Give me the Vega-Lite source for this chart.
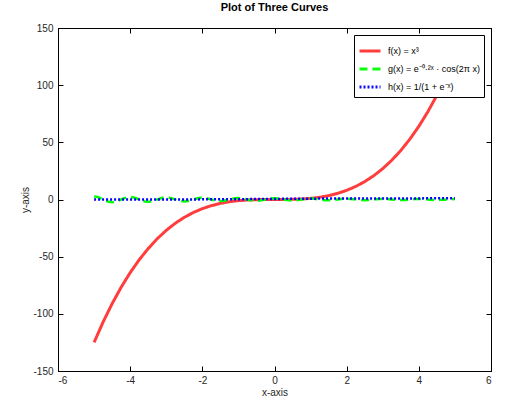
{
  "$schema": "https://vega.github.io/schema/vega-lite/v6.json",
  "width": 433,
  "height": 343,
  "autosize": "none",
  "padding": {"left": 58, "top": 28, "right": 32, "bottom": 36},
  "background": "white",
  "title": {"text": "Plot of Three Curves", "fontSize": 11, "fontWeight": "bold", "font": "Liberation Sans", "color": "black", "offset": 10},
  "datasets": {
    "cubic": [
      {"x": -5, "y": -125}, {"x": -4.75, "y": -107.17}, {"x": -4.5, "y": -91.125}, {"x": -4.25, "y": -76.77},
      {"x": -4, "y": -64}, {"x": -3.75, "y": -52.73}, {"x": -3.5, "y": -42.875}, {"x": -3.25, "y": -34.33},
      {"x": -3, "y": -27}, {"x": -2.75, "y": -20.8}, {"x": -2.5, "y": -15.625}, {"x": -2.25, "y": -11.39},
      {"x": -2, "y": -8}, {"x": -1.75, "y": -5.36}, {"x": -1.5, "y": -3.375}, {"x": -1.25, "y": -1.95},
      {"x": -1, "y": -1}, {"x": -0.75, "y": -0.42}, {"x": -0.5, "y": -0.125}, {"x": -0.25, "y": -0.016},
      {"x": 0, "y": 0},
      {"x": 0.25, "y": 0.016}, {"x": 0.5, "y": 0.125}, {"x": 0.75, "y": 0.42}, {"x": 1, "y": 1},
      {"x": 1.25, "y": 1.95}, {"x": 1.5, "y": 3.375}, {"x": 1.75, "y": 5.36}, {"x": 2, "y": 8},
      {"x": 2.25, "y": 11.39}, {"x": 2.5, "y": 15.625}, {"x": 2.75, "y": 20.8}, {"x": 3, "y": 27},
      {"x": 3.25, "y": 34.33}, {"x": 3.5, "y": 42.875}, {"x": 3.75, "y": 52.73}, {"x": 4, "y": 64},
      {"x": 4.25, "y": 76.77}, {"x": 4.5, "y": 91.125}, {"x": 4.75, "y": 107.17}, {"x": 5, "y": 125}
    ],
    "damped": [
      {"x": -5, "y": 2.72}, {"x": -4.9, "y": 2.16}, {"x": -4.8, "y": 0.81}, {"x": -4.7, "y": -0.79}, {"x": -4.6, "y": -2.03},
      {"x": -4.5, "y": -2.46}, {"x": -4.4, "y": -1.95}, {"x": -4.3, "y": -0.73}, {"x": -4.2, "y": 0.72}, {"x": -4.1, "y": 1.84},
      {"x": -4, "y": 2.23}, {"x": -3.9, "y": 1.76}, {"x": -3.8, "y": 0.66}, {"x": -3.7, "y": -0.65}, {"x": -3.6, "y": -1.66},
      {"x": -3.5, "y": -2.01}, {"x": -3.4, "y": -1.6}, {"x": -3.3, "y": -0.6}, {"x": -3.2, "y": 0.59}, {"x": -3.1, "y": 1.5},
      {"x": -3, "y": 1.82}, {"x": -2.9, "y": 1.44}, {"x": -2.8, "y": 0.54}, {"x": -2.7, "y": -0.53}, {"x": -2.6, "y": -1.36},
      {"x": -2.5, "y": -1.65}, {"x": -2.4, "y": -1.31}, {"x": -2.3, "y": -0.49}, {"x": -2.2, "y": 0.48}, {"x": -2.1, "y": 1.23},
      {"x": -2, "y": 1.49}, {"x": -1.9, "y": 1.18}, {"x": -1.8, "y": 0.44}, {"x": -1.7, "y": -0.43}, {"x": -1.6, "y": -1.11},
      {"x": -1.5, "y": -1.35}, {"x": -1.4, "y": -1.07}, {"x": -1.3, "y": -0.4}, {"x": -1.2, "y": 0.39}, {"x": -1.1, "y": 1.01},
      {"x": -1, "y": 1.22}, {"x": -0.9, "y": 0.97}, {"x": -0.8, "y": 0.36}, {"x": -0.7, "y": -0.36}, {"x": -0.6, "y": -0.91},
      {"x": -0.5, "y": -1.11}, {"x": -0.4, "y": -0.88}, {"x": -0.3, "y": -0.33}, {"x": -0.2, "y": 0.32}, {"x": -0.1, "y": 0.83},
      {"x": 0, "y": 1},
      {"x": 0.1, "y": 0.79}, {"x": 0.2, "y": 0.3}, {"x": 0.3, "y": -0.29}, {"x": 0.4, "y": -0.75}, {"x": 0.5, "y": -0.9},
      {"x": 0.6, "y": -0.72}, {"x": 0.7, "y": -0.27}, {"x": 0.8, "y": 0.26}, {"x": 0.9, "y": 0.68}, {"x": 1, "y": 0.82},
      {"x": 1.1, "y": 0.65}, {"x": 1.2, "y": 0.24}, {"x": 1.3, "y": -0.24}, {"x": 1.4, "y": -0.61}, {"x": 1.5, "y": -0.74},
      {"x": 1.6, "y": -0.59}, {"x": 1.7, "y": -0.22}, {"x": 1.8, "y": 0.22}, {"x": 1.9, "y": 0.55}, {"x": 2, "y": 0.67},
      {"x": 2.1, "y": 0.53}, {"x": 2.2, "y": 0.2}, {"x": 2.3, "y": -0.2}, {"x": 2.4, "y": -0.5}, {"x": 2.5, "y": -0.61},
      {"x": 2.6, "y": -0.48}, {"x": 2.7, "y": -0.18}, {"x": 2.8, "y": 0.18}, {"x": 2.9, "y": 0.45}, {"x": 3, "y": 0.55},
      {"x": 3.1, "y": 0.44}, {"x": 3.2, "y": 0.16}, {"x": 3.3, "y": -0.16}, {"x": 3.4, "y": -0.41}, {"x": 3.5, "y": -0.5},
      {"x": 3.6, "y": -0.39}, {"x": 3.7, "y": -0.15}, {"x": 3.8, "y": 0.14}, {"x": 3.9, "y": 0.37}, {"x": 4, "y": 0.45},
      {"x": 4.1, "y": 0.36}, {"x": 4.2, "y": 0.13}, {"x": 4.3, "y": -0.13}, {"x": 4.4, "y": -0.34}, {"x": 4.5, "y": -0.41},
      {"x": 4.6, "y": -0.32}, {"x": 4.7, "y": -0.12}, {"x": 4.8, "y": 0.12}, {"x": 4.9, "y": 0.3}, {"x": 5, "y": 0.37}
    ],
    "logistic": [
      {"x": -5, "y": 0.0067}, {"x": -4.5, "y": 0.011}, {"x": -4, "y": 0.018}, {"x": -3.5, "y": 0.029},
      {"x": -3, "y": 0.047}, {"x": -2.5, "y": 0.076}, {"x": -2, "y": 0.119}, {"x": -1.5, "y": 0.182},
      {"x": -1, "y": 0.269}, {"x": -0.5, "y": 0.378}, {"x": 0, "y": 0.5}, {"x": 0.5, "y": 0.622},
      {"x": 1, "y": 0.731}, {"x": 1.5, "y": 0.818}, {"x": 2, "y": 0.881}, {"x": 2.5, "y": 0.924},
      {"x": 3, "y": 0.953}, {"x": 3.5, "y": 0.971}, {"x": 4, "y": 0.982}, {"x": 4.5, "y": 0.989},
      {"x": 5, "y": 0.993}
    ]
  },
  "encoding": {
    "x": {"field": "x", "type": "quantitative", "scale": {"domain": [-6, 6], "nice": false, "zero": false}},
    "y": {"field": "y", "type": "quantitative", "scale": {"domain": [-150, 150], "nice": false, "zero": false}},
    "color": {
      "datum": "f(x) = x³",
      "type": "nominal",
      "scale": {
        "domain": ["f(x) = x³", "g(x) = e⁻⁰·²ˣ · cos(2π x)", "h(x) = 1/(1 + e⁻ˣ)"],
        "range": ["#ff3333", "#00ff00", "#0000ff"]
      },
      "legend": {
        "title": null,
        "orient": "top-right",
        "offset": 7,
        "fillColor": "white",
        "strokeColor": "black",
        "padding": 4,
        "rowPadding": 0,
        "symbolType": "stroke",
        "symbolSize": 441,
        "symbolStrokeWidth": 3,
        "labelFont": "Liberation Sans",
        "labelFontSize": 9,
        "labelColor": "black",
        "labelOffset": 6
      }
    },
    "strokeDash": {
      "datum": "f(x) = x³",
      "type": "nominal",
      "scale": {
        "domain": ["f(x) = x³", "g(x) = e⁻⁰·²ˣ · cos(2π x)", "h(x) = 1/(1 + e⁻ˣ)"],
        "range": [[1, 0], [8, 5], [2, 2]]
      },
      "legend": {
        "title": null
      }
    }
  },
  "layer": [
    {
      "data": {"name": "cubic"},
      "mark": {"type": "line", "strokeWidth": 3, "opacity": 0.95},
      "encoding": {
        "x": {"field": "x", "type": "quantitative", "title": "x-axis",
          "axis": {"values": [-6, -4, -2, 0, 2, 4, 6], "labelExpr": "'' + datum.value", "grid": false, "tickSize": -5, "labelPadding": 9, "titlePadding": 2}},
        "y": {"field": "y", "type": "quantitative", "title": "y-axis",
          "axis": {"values": [-150, -100, -50, 0, 50, 100, 150], "labelExpr": "'' + datum.value", "grid": false, "tickSize": -5, "labelPadding": 10, "titlePadding": 2}}
      }
    },
    {
      "data": {"name": "damped"},
      "mark": {"type": "line", "strokeWidth": 2.5},
      "encoding": {
        "x": {"field": "x", "type": "quantitative", "axis": {"orient": "top", "values": [-6, -4, -2, 0, 2, 4, 6], "labels": false, "title": null, "grid": false, "tickSize": -5}},
        "y": {"field": "y", "type": "quantitative", "axis": {"orient": "right", "values": [-150, -100, -50, 0, 50, 100, 150], "labels": false, "title": null, "grid": false, "tickSize": -5}},
        "color": {"datum": "g(x) = e⁻⁰·²ˣ · cos(2π x)", "type": "nominal"},
        "strokeDash": {"datum": "g(x) = e⁻⁰·²ˣ · cos(2π x)", "type": "nominal"}
      }
    },
    {
      "data": {"name": "logistic"},
      "mark": {"type": "line", "strokeWidth": 2.5},
      "encoding": {
        "x": {"field": "x", "type": "quantitative", "axis": null},
        "y": {"field": "y", "type": "quantitative", "axis": null},
        "color": {"datum": "h(x) = 1/(1 + e⁻ˣ)", "type": "nominal"},
        "strokeDash": {"datum": "h(x) = 1/(1 + e⁻ˣ)", "type": "nominal"}
      }
    }
  ],
  "resolve": {"axis": {"x": "independent", "y": "independent"}},
  "config": {
    "view": {"stroke": "black", "strokeWidth": 1},
    "axis": {
      "domainColor": "black",
      "tickColor": "black",
      "labelColor": "#262626",
      "titleColor": "#262626",
      "labelFont": "Liberation Sans",
      "titleFont": "Liberation Sans",
      "labelFontSize": 10,
      "titleFontSize": 10,
      "titleFontWeight": "normal"
    }
  }
}
